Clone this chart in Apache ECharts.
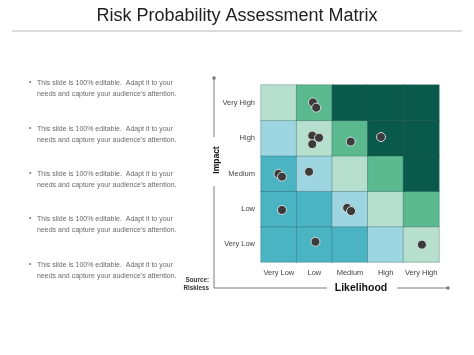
<!DOCTYPE html>
<html>
<head>
<meta charset="utf-8">
<style>
  html, body { margin: 0; padding: 0; background: #fff; }
  #chart { width: 474px; height: 355px; }
</style>
<script src="https://cdn.jsdelivr.net/npm/echarts@6/dist/echarts.min.js"></script>
</head>
<body>
<div id="chart"></div>
<script>
const likelihood = ['Very Low', 'Low', 'Medium', 'High', 'Very High']
const impact = ['Very Low', 'Low', 'Medium', 'High', 'Very High']

// risk level per cell, rows from Very Low impact up to Very High
const levels = [
  [0, 0, 0, 1, 2],
  [0, 0, 1, 2, 3],
  [0, 1, 2, 3, 4],
  [1, 2, 3, 4, 4],
  [2, 3, 4, 4, 4]
]
const levelColors = ['#4bb4c3', '#9dd6e1', '#b6e0cd', '#5bb990', '#0a5a4b']

// risk points (likelihood, impact) on a 0..5 scale
const riskX = [1.46, 1.55, 1.44, 1.63, 1.44, 2.52, 3.37, 0.49, 0.59, 1.35, 0.59, 2.42, 2.53, 1.53, 4.52]
const riskY = [4.51, 4.36, 3.57, 3.51, 3.33, 3.40, 3.53, 2.49, 2.41, 2.55, 1.47, 1.53, 1.44, 0.57, 0.49]

const noteText = "This slide is 100% editable.  Adapt it to your\nneeds and capture your audience's attention."
const noteY = [78, 124, 169, 214, 260]

const cells = []
levels.forEach((row, y) => {
  row.forEach((lv, x) => {
    cells.push({ value: [x, y, lv], itemStyle: { color: levelColors[lv] } })
  })
})
const points = riskX.map((x, i) => [x, riskY[i]])

const font = 'Liberation Sans, Arial, sans-serif'
const axisGrey = '#7a7a7a'

const notes = noteY.map(y => ({
  type: 'group',
  children: [
    { type: 'text', left: 29, top: y + 1, style: { text: '•', font: '7px ' + font, fill: '#777' } },
    { type: 'text', left: 37, top: y, style: { text: noteText, font: '7px ' + font, fill: '#6a6a6a', lineHeight: 10.5 } }
  ]
}))

const chart = echarts.init(document.getElementById('chart'))
chart.setOption({
  animation: false,
  grid: { left: 261, top: 85, width: 178, height: 177 },
  xAxis: [
    {
      type: 'category',
      data: likelihood,
      axisLine: { show: false },
      axisTick: { show: false },
      axisLabel: { color: '#444', fontSize: 7.5, fontFamily: font, margin: 7, interval: 0 }
    },
    { type: 'value', min: 0, max: 5, show: false }
  ],
  yAxis: [
    {
      type: 'category',
      data: impact,
      axisLine: { show: false },
      axisTick: { show: false },
      axisLabel: { color: '#444', fontSize: 7.5, fontFamily: font, margin: 6, interval: 0 }
    },
    { type: 'value', min: 0, max: 5, show: false }
  ],
  series: [
    {
      type: 'heatmap',
      xAxisIndex: 0,
      yAxisIndex: 0,
      data: cells,
      itemStyle: { borderColor: 'rgba(40,90,90,0.35)', borderWidth: 1 }
    },
    {
      type: 'scatter',
      xAxisIndex: 1,
      yAxisIndex: 1,
      data: points,
      symbolSize: 9,
      itemStyle: { color: '#3b3b3b', borderColor: '#d4dcda', borderWidth: 1, opacity: 1 },
      z: 5
    }
  ],
  graphic: [
    { type: 'text', left: 'center', top: 7, style: { text: 'Risk Probability Assessment Matrix', font: '18px ' + font, fill: '#222' } },
    { type: 'line', shape: { x1: 12, y1: 31, x2: 462, y2: 31 }, style: { stroke: '#cfcfcf', lineWidth: 1.5 } },
    ...notes,
    // impact axis
    { type: 'circle', shape: { cx: 214, cy: 78, r: 1.8 }, style: { fill: axisGrey } },
    { type: 'line', shape: { x1: 214, y1: 78, x2: 214, y2: 137 }, style: { stroke: axisGrey, lineWidth: 1 } },
    { type: 'line', shape: { x1: 214, y1: 186, x2: 214, y2: 288 }, style: { stroke: axisGrey, lineWidth: 1 } },
    {
      type: 'text', x: 217, y: 160, rotation: Math.PI / 2,
      style: { text: 'Impact', font: 'bold 8.5px ' + font, fill: '#111', align: 'center', verticalAlign: 'middle' }
    },
    // likelihood axis
    { type: 'line', shape: { x1: 214, y1: 288, x2: 327, y2: 288 }, style: { stroke: axisGrey, lineWidth: 1 } },
    { type: 'line', shape: { x1: 397, y1: 288, x2: 448, y2: 288 }, style: { stroke: axisGrey, lineWidth: 1 } },
    { type: 'circle', shape: { cx: 448, cy: 288, r: 1.8 }, style: { fill: axisGrey } },
    {
      type: 'text', x: 361, y: 288,
      style: { text: 'Likelihood', font: 'bold 10.5px ' + font, fill: '#111', align: 'center', verticalAlign: 'middle' }
    },
    {
      type: 'text', x: 209, y: 276,
      style: { text: 'Source:\nRiskless', font: 'bold 6.3px ' + font, fill: '#333', align: 'right', lineHeight: 8 }
    }
  ]
})
</script>
</body>
</html>
